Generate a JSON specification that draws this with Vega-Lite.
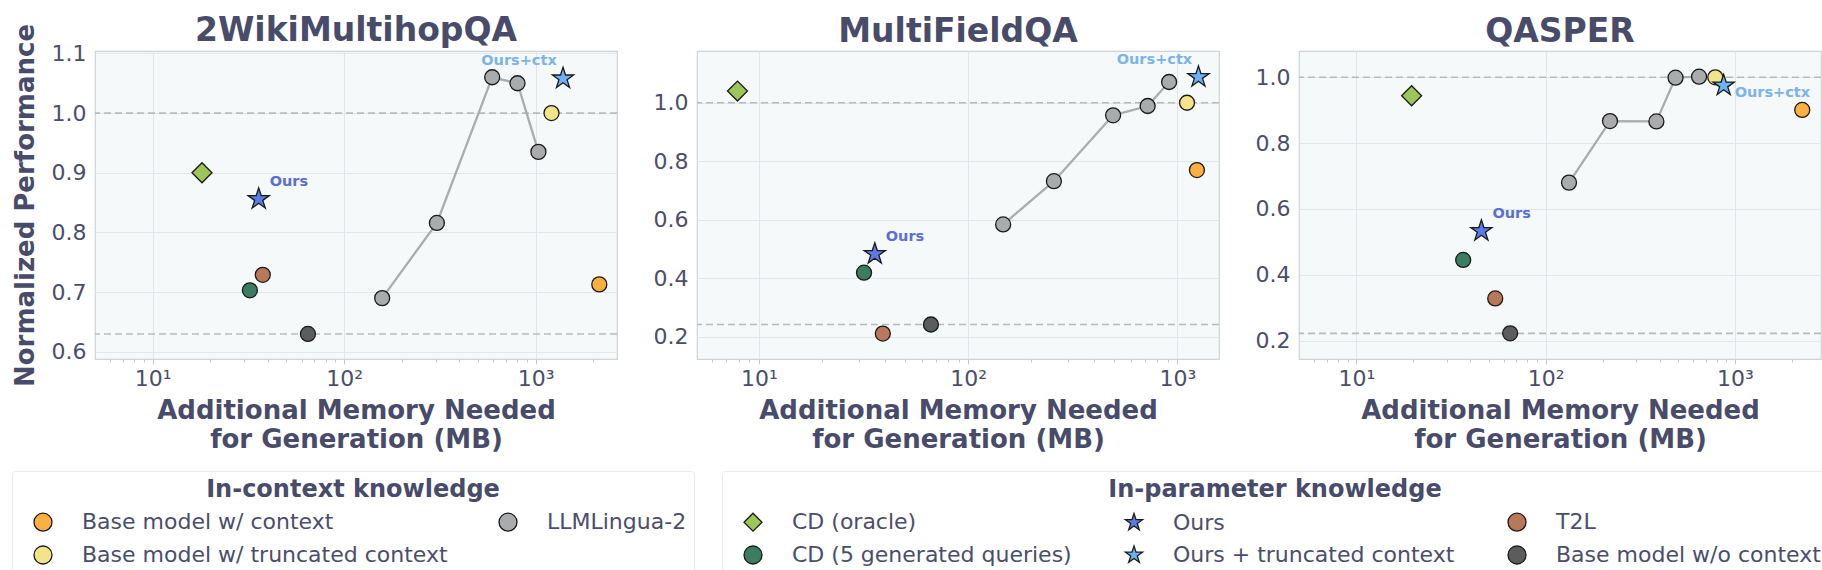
{
  "$schema": "https://vega.github.io/schema/vega-lite/v6.json",
  "padding": {"left": 11, "top": 14, "right": 0, "bottom": 0},
  "spacing": 33,
  "config": {
    "font": "DejaVu Sans",
    "view": {"fill": "#f5f9fa", "stroke": "#cfd3d8", "strokeWidth": 1.2},
    "axis": {"labelFont": "DejaVu Sans", "labelFontSize": 22, "labelColor": "#4b4e6b", "titleFont": "DejaVu Sans", "titleFontSize": 26, "titleFontWeight": "bold", "titleColor": "#484b69", "gridColor": "#e2e6ea", "gridWidth": 1, "domain": false, "tickColor": "#c5c9ce"},
    "title": {"font": "DejaVu Sans", "fontSize": 33, "fontWeight": "bold", "color": "#484b69", "baseline": "bottom", "offset": 2, "anchor": "middle"},
    "legend": {"padding": 7, "strokeColor": "#ebebeb", "fillColor": "#ffffff", "cornerRadius": 3, "titleFont": "DejaVu Sans", "titleFontSize": 24, "titleFontWeight": "bold", "titleColor": "#484b69", "titleAnchor": "middle", "titlePadding": 9, "titleLimit": 1000, "labelFont": "DejaVu Sans", "labelFontSize": 22, "labelColor": "#4b4e6b", "symbolSize": 324, "symbolStrokeColor": "#1a1a1a", "symbolStrokeWidth": 1.3, "symbolOpacity": 1, "symbolOffset": 13, "labelOffset": 28, "rowPadding": 9, "labelLimit": 500}
  },
  "datasets": {
    "pts": [
      {"d": "2WikiMultihopQA", "series": "Base model w/ context", "mem": 2150, "perf": 0.713},
      {"d": "2WikiMultihopQA", "series": "Base model w/ truncated context", "mem": 1210, "perf": 1.0},
      {"d": "2WikiMultihopQA", "series": "LLMLingua-2", "mem": 158, "perf": 0.690},
      {"d": "2WikiMultihopQA", "series": "LLMLingua-2", "mem": 305, "perf": 0.816},
      {"d": "2WikiMultihopQA", "series": "LLMLingua-2", "mem": 593, "perf": 1.060},
      {"d": "2WikiMultihopQA", "series": "LLMLingua-2", "mem": 804, "perf": 1.050},
      {"d": "2WikiMultihopQA", "series": "LLMLingua-2", "mem": 1034, "perf": 0.935},
      {"d": "2WikiMultihopQA", "series": "CD (oracle)", "mem": 18.1, "perf": 0.900},
      {"d": "2WikiMultihopQA", "series": "CD (5 generated queries)", "mem": 32.2, "perf": 0.703},
      {"d": "2WikiMultihopQA", "series": "Ours", "mem": 35.8, "perf": 0.856},
      {"d": "2WikiMultihopQA", "series": "Ours + truncated context", "mem": 1390, "perf": 1.058},
      {"d": "2WikiMultihopQA", "series": "T2L", "mem": 37.6, "perf": 0.729},
      {"d": "2WikiMultihopQA", "series": "Base model w/o context", "mem": 64.7, "perf": 0.630},
      {"d": "MultiFieldQA", "series": "Base model w/ context", "mem": 1240, "perf": 0.770},
      {"d": "MultiFieldQA", "series": "Base model w/ truncated context", "mem": 1112, "perf": 1.0},
      {"d": "MultiFieldQA", "series": "LLMLingua-2", "mem": 147, "perf": 0.584},
      {"d": "MultiFieldQA", "series": "LLMLingua-2", "mem": 257, "perf": 0.732},
      {"d": "MultiFieldQA", "series": "LLMLingua-2", "mem": 493, "perf": 0.957},
      {"d": "MultiFieldQA", "series": "LLMLingua-2", "mem": 721, "perf": 0.989},
      {"d": "MultiFieldQA", "series": "LLMLingua-2", "mem": 913, "perf": 1.071},
      {"d": "MultiFieldQA", "series": "CD (oracle)", "mem": 7.9, "perf": 1.040},
      {"d": "MultiFieldQA", "series": "CD (5 generated queries)", "mem": 31.8, "perf": 0.419},
      {"d": "MultiFieldQA", "series": "Ours", "mem": 35.8, "perf": 0.483},
      {"d": "MultiFieldQA", "series": "Ours + truncated context", "mem": 1261, "perf": 1.088},
      {"d": "MultiFieldQA", "series": "T2L", "mem": 39.1, "perf": 0.211},
      {"d": "MultiFieldQA", "series": "Base model w/o context", "mem": 66.4, "perf": 0.242},
      {"d": "QASPER", "series": "Base model w/ context", "mem": 2270, "perf": 0.901},
      {"d": "QASPER", "series": "Base model w/ truncated context", "mem": 788, "perf": 1.0},
      {"d": "QASPER", "series": "LLMLingua-2", "mem": 133, "perf": 0.680},
      {"d": "QASPER", "series": "LLMLingua-2", "mem": 219, "perf": 0.867},
      {"d": "QASPER", "series": "LLMLingua-2", "mem": 385, "perf": 0.866},
      {"d": "QASPER", "series": "LLMLingua-2", "mem": 486, "perf": 0.999},
      {"d": "QASPER", "series": "LLMLingua-2", "mem": 647, "perf": 1.002},
      {"d": "QASPER", "series": "CD (oracle)", "mem": 19.6, "perf": 0.944},
      {"d": "QASPER", "series": "CD (5 generated queries)", "mem": 36.7, "perf": 0.445},
      {"d": "QASPER", "series": "Ours", "mem": 45.8, "perf": 0.533},
      {"d": "QASPER", "series": "Ours + truncated context", "mem": 873, "perf": 0.975},
      {"d": "QASPER", "series": "T2L", "mem": 54.2, "perf": 0.328},
      {"d": "QASPER", "series": "Base model w/o context", "mem": 65.0, "perf": 0.222}
    ]
  },
  "hconcat": [
    {
      "title": {"text": "2WikiMultihopQA", "offset": -25},
      "width": 522, "height": 308,
      "data": {"name": "pts"},
      "transform": [{"filter": {"field": "d", "equal": "2WikiMultihopQA"}}],
      "encoding": {
        "y": {"field": "perf", "type": "quantitative", "scale": {"domain": [0.588, 1.104], "nice": false, "zero": false},
              "axis": {"title": "Normalized Performance", "values": [0.6, 0.7, 0.8, 0.9, 1.0, 1.1], "format": ".1f", "ticks": false, "labelPadding": 9, "minExtent": 44, "maxExtent": 44, "titlePadding": 13, "grid": true}},
        "x": {"field": "mem", "type": "quantitative", "scale": {"type": "log", "domain": [5.0, 2660], "nice": false}, "axis": null}
      },
      "layer": [
        {"transform": [{"filter": {"field": "series", "oneOf": ["Base model w/ truncated context", "Base model w/o context"]}}],
         "mark": {"type": "rule", "color": "#bababa", "strokeWidth": 1.6, "strokeDash": [7, 4]},
         "encoding": {"x": null}},
        {"transform": [{"filter": {"field": "series", "equal": "LLMLingua-2"}}],
         "mark": {"type": "line", "color": "#acacac", "strokeWidth": 2.3},
         "encoding": {
           "x": {"field": "mem", "type": "quantitative", "scale": {"type": "log", "domain": [5.0, 2660], "nice": false},
                 "axis": {"orient": "bottom", "values": [10, 100, 1000], "labelExpr": "datum.value == 10 ? '10¹' : datum.value == 100 ? '10²' : '10³'", "grid": true, "tickSize": 5, "labelPadding": 4, "minExtent": 30, "maxExtent": 30, "titlePadding": 8, "title": ["Additional Memory Needed", "for Generation (MB)"], "titleLineHeight": 29}},
           "order": {"field": "mem", "type": "quantitative"}}},
        {"transform": [{"filter": {"field": "series", "oneOf": ["Base model w/ context", "Base model w/ truncated context", "LLMLingua-2"]}}],
         "mark": {"type": "point", "filled": true, "shape": "circle", "size": 225, "opacity": 1, "stroke": "#1a1a1a", "strokeWidth": 1.3},
         "encoding": {
           "x": {"field": "mem", "type": "quantitative", "scale": {"type": "log", "domain": [5.0, 2660], "nice": false},
                 "axis": {"orient": "bottom", "values": [6, 7, 8, 9, 20, 30, 40, 50, 60, 70, 80, 90, 200, 300, 400, 500, 600, 700, 800, 900, 2000], "labels": false, "grid": false, "tickSize": 3, "title": null, "minExtent": 0, "maxExtent": 0}},
           "fill": {"field": "series", "type": "nominal", "scale": {"domain": ["Base model w/ context", "Base model w/ truncated context", "LLMLingua-2"], "range": ["#fbb040", "#f3e48a", "#a9abad"]},
                    "legend": {"title": "In-context knowledge", "orient": "none", "legendX": -83, "legendY": 420, "columns": 2, "columnPadding": 36, "symbolType": "circle"}}}},
        {"transform": [{"filter": {"field": "series", "oneOf": ["CD (5 generated queries)", "T2L", "Base model w/o context"]}}],
         "mark": {"type": "point", "filled": true, "opacity": 1, "size": 225, "stroke": "#1a1a1a", "strokeWidth": 1.3},
         "encoding": {
           "color": {"field": "series", "type": "nominal", "scale": {"domain": ["CD (oracle)", "CD (5 generated queries)", "Ours", "Ours + truncated context", "T2L", "Base model w/o context"], "range": ["#9cc65a", "#3b7d60", "#5b7be6", "#6cb0f5", "#b9785a", "#5c5c5c"]},
                     "legend": {"title": "In-parameter knowledge", "orient": "none", "legendX": 627, "legendY": 420, "columns": 3, "columnPadding": 38, "encode": {"symbols": {"update": {"stroke": {"value": "#1a1a1a"}, "strokeWidth": {"value": 1.3}}}}}},
           "shape": {"field": "series", "type": "nominal", "scale": {"domain": ["CD (oracle)", "CD (5 generated queries)", "Ours", "Ours + truncated context", "T2L", "Base model w/o context"], "range": ["diamond", "circle", "M0,-1L0.225,-0.309L0.951,-0.309L0.363,0.118L0.588,0.809L0,0.382L-0.588,0.809L-0.363,0.118L-0.951,-0.309L-0.225,-0.309Z", "M0,-1L0.225,-0.309L0.951,-0.309L0.363,0.118L0.588,0.809L0,0.382L-0.588,0.809L-0.363,0.118L-0.951,-0.309L-0.225,-0.309Z", "circle", "circle"]},
                     "legend": {"title": "In-parameter knowledge", "orient": "none", "legendX": 627, "legendY": 420, "columns": 3, "columnPadding": 38, "encode": {"symbols": {"update": {"stroke": {"value": "#1a1a1a"}, "strokeWidth": {"value": 1.3}}}}}}}},
        {"transform": [{"filter": {"field": "series", "equal": "CD (oracle)"}}],
         "mark": {"type": "point", "filled": true, "opacity": 1, "size": 400, "stroke": "#1a1a1a", "strokeWidth": 1.3},
         "encoding": {"color": {"field": "series", "type": "nominal"}, "shape": {"field": "series", "type": "nominal"}}},
        {"transform": [{"filter": {"field": "series", "oneOf": ["Ours", "Ours + truncated context"]}}],
         "mark": {"type": "point", "filled": true, "opacity": 1, "size": 500, "stroke": "#1a1a1a", "strokeWidth": 1.3},
         "encoding": {"color": {"field": "series", "type": "nominal"}, "shape": {"field": "series", "type": "nominal"}}},
        {"transform": [{"filter": {"field": "series", "equal": "Ours"}}],
         "mark": {"type": "text", "align": "left", "baseline": "middle", "dx": 11, "dy": -17, "fontSize": 14.5, "fontWeight": "bold", "color": "#5a6fd6"},
         "encoding": {"text": {"value": "Ours"}}},
        {"transform": [{"filter": {"field": "series", "equal": "Ours + truncated context"}}],
         "mark": {"type": "text", "align": "center", "baseline": "middle", "dx": -44, "dy": -17, "fontSize": 14.5, "fontWeight": "bold", "color": "#7cb4ea"},
         "encoding": {"text": {"value": "Ours+ctx"}}}
      ],
      "resolve": {"axis": {"x": "independent"}}
    },
    {
      "title": {"text": "MultiFieldQA"},
      "width": 522, "height": 308,
      "data": {"name": "pts"},
      "transform": [{"filter": {"field": "d", "equal": "MultiFieldQA"}}],
      "encoding": {
        "y": {"field": "perf", "type": "quantitative", "scale": {"domain": [0.124, 1.177], "nice": false, "zero": false},
              "axis": {"title": null, "values": [0.2, 0.4, 0.6, 0.8, 1.0], "format": ".1f", "ticks": false, "labelPadding": 9, "minExtent": 44, "maxExtent": 44, "grid": true}},
        "x": {"field": "mem", "type": "quantitative", "scale": {"type": "log", "domain": [5.06, 1581], "nice": false}, "axis": null}
      },
      "layer": [
        {"transform": [{"filter": {"field": "series", "oneOf": ["Base model w/ truncated context", "Base model w/o context"]}}],
         "mark": {"type": "rule", "color": "#bababa", "strokeWidth": 1.6, "strokeDash": [7, 4]},
         "encoding": {"x": null}},
        {"transform": [{"filter": {"field": "series", "equal": "LLMLingua-2"}}],
         "mark": {"type": "line", "color": "#acacac", "strokeWidth": 2.3},
         "encoding": {
           "x": {"field": "mem", "type": "quantitative", "scale": {"type": "log", "domain": [5.06, 1581], "nice": false},
                 "axis": {"orient": "bottom", "values": [10, 100, 1000], "labelExpr": "datum.value == 10 ? '10¹' : datum.value == 100 ? '10²' : '10³'", "grid": true, "tickSize": 5, "labelPadding": 4, "minExtent": 30, "maxExtent": 30, "titlePadding": 8, "title": ["Additional Memory Needed", "for Generation (MB)"], "titleLineHeight": 29}},
           "order": {"field": "mem", "type": "quantitative"}}},
        {"transform": [{"filter": {"field": "series", "oneOf": ["Base model w/ context", "Base model w/ truncated context", "LLMLingua-2"]}}],
         "mark": {"type": "point", "filled": true, "shape": "circle", "size": 225, "opacity": 1, "stroke": "#1a1a1a", "strokeWidth": 1.3},
         "encoding": {
           "x": {"field": "mem", "type": "quantitative", "scale": {"type": "log", "domain": [5.06, 1581], "nice": false},
                 "axis": {"orient": "bottom", "values": [6, 7, 8, 9, 20, 30, 40, 50, 60, 70, 80, 90, 200, 300, 400, 500, 600, 700, 800, 900], "labels": false, "grid": false, "tickSize": 3, "title": null, "minExtent": 0, "maxExtent": 0}},
           "fill": {"field": "series", "type": "nominal", "scale": {"domain": ["Base model w/ context", "Base model w/ truncated context", "LLMLingua-2"], "range": ["#fbb040", "#f3e48a", "#a9abad"]},
                    "legend": {"title": "In-context knowledge", "orient": "none", "legendX": -83, "legendY": 420, "columns": 2, "columnPadding": 36, "symbolType": "circle"}}}},
        {"transform": [{"filter": {"field": "series", "oneOf": ["CD (5 generated queries)", "T2L", "Base model w/o context"]}}],
         "mark": {"type": "point", "filled": true, "opacity": 1, "size": 225, "stroke": "#1a1a1a", "strokeWidth": 1.3},
         "encoding": {
           "color": {"field": "series", "type": "nominal", "scale": {"domain": ["CD (oracle)", "CD (5 generated queries)", "Ours", "Ours + truncated context", "T2L", "Base model w/o context"], "range": ["#9cc65a", "#3b7d60", "#5b7be6", "#6cb0f5", "#b9785a", "#5c5c5c"]},
                     "legend": {"title": "In-parameter knowledge", "orient": "none", "legendX": 627, "legendY": 420, "columns": 3, "columnPadding": 38, "encode": {"symbols": {"update": {"stroke": {"value": "#1a1a1a"}, "strokeWidth": {"value": 1.3}}}}}},
           "shape": {"field": "series", "type": "nominal", "scale": {"domain": ["CD (oracle)", "CD (5 generated queries)", "Ours", "Ours + truncated context", "T2L", "Base model w/o context"], "range": ["diamond", "circle", "M0,-1L0.225,-0.309L0.951,-0.309L0.363,0.118L0.588,0.809L0,0.382L-0.588,0.809L-0.363,0.118L-0.951,-0.309L-0.225,-0.309Z", "M0,-1L0.225,-0.309L0.951,-0.309L0.363,0.118L0.588,0.809L0,0.382L-0.588,0.809L-0.363,0.118L-0.951,-0.309L-0.225,-0.309Z", "circle", "circle"]},
                     "legend": {"title": "In-parameter knowledge", "orient": "none", "legendX": 627, "legendY": 420, "columns": 3, "columnPadding": 38, "encode": {"symbols": {"update": {"stroke": {"value": "#1a1a1a"}, "strokeWidth": {"value": 1.3}}}}}}}},
        {"transform": [{"filter": {"field": "series", "equal": "CD (oracle)"}}],
         "mark": {"type": "point", "filled": true, "opacity": 1, "size": 400, "stroke": "#1a1a1a", "strokeWidth": 1.3},
         "encoding": {"color": {"field": "series", "type": "nominal"}, "shape": {"field": "series", "type": "nominal"}}},
        {"transform": [{"filter": {"field": "series", "oneOf": ["Ours", "Ours + truncated context"]}}],
         "mark": {"type": "point", "filled": true, "opacity": 1, "size": 500, "stroke": "#1a1a1a", "strokeWidth": 1.3},
         "encoding": {"color": {"field": "series", "type": "nominal"}, "shape": {"field": "series", "type": "nominal"}}},
        {"transform": [{"filter": {"field": "series", "equal": "Ours"}}],
         "mark": {"type": "text", "align": "left", "baseline": "middle", "dx": 11, "dy": -17, "fontSize": 14.5, "fontWeight": "bold", "color": "#5a6fd6"},
         "encoding": {"text": {"value": "Ours"}}},
        {"transform": [{"filter": {"field": "series", "equal": "Ours + truncated context"}}],
         "mark": {"type": "text", "align": "center", "baseline": "middle", "dx": -44, "dy": -17, "fontSize": 14.5, "fontWeight": "bold", "color": "#7cb4ea"},
         "encoding": {"text": {"value": "Ours+ctx"}}}
      ],
      "resolve": {"axis": {"x": "independent"}}
    },
    {
      "title": {"text": "QASPER"},
      "width": 522, "height": 308,
      "data": {"name": "pts"},
      "transform": [{"filter": {"field": "d", "equal": "QASPER"}}],
      "encoding": {
        "y": {"field": "perf", "type": "quantitative", "scale": {"domain": [0.144, 1.08], "nice": false, "zero": false},
              "axis": {"title": null, "values": [0.2, 0.4, 0.6, 0.8, 1.0], "format": ".1f", "ticks": false, "labelPadding": 9, "minExtent": 44, "maxExtent": 44, "grid": true}},
        "x": {"field": "mem", "type": "quantitative", "scale": {"type": "log", "domain": [4.98, 2852], "nice": false}, "axis": null}
      },
      "layer": [
        {"transform": [{"filter": {"field": "series", "oneOf": ["Base model w/ truncated context", "Base model w/o context"]}}],
         "mark": {"type": "rule", "color": "#bababa", "strokeWidth": 1.6, "strokeDash": [7, 4]},
         "encoding": {"x": null}},
        {"transform": [{"filter": {"field": "series", "equal": "LLMLingua-2"}}],
         "mark": {"type": "line", "color": "#acacac", "strokeWidth": 2.3},
         "encoding": {
           "x": {"field": "mem", "type": "quantitative", "scale": {"type": "log", "domain": [4.98, 2852], "nice": false},
                 "axis": {"orient": "bottom", "values": [10, 100, 1000], "labelExpr": "datum.value == 10 ? '10¹' : datum.value == 100 ? '10²' : '10³'", "grid": true, "tickSize": 5, "labelPadding": 4, "minExtent": 30, "maxExtent": 30, "titlePadding": 8, "title": ["Additional Memory Needed", "for Generation (MB)"], "titleLineHeight": 29}},
           "order": {"field": "mem", "type": "quantitative"}}},
        {"transform": [{"filter": {"field": "series", "oneOf": ["Base model w/ context", "Base model w/ truncated context", "LLMLingua-2"]}}],
         "mark": {"type": "point", "filled": true, "shape": "circle", "size": 225, "opacity": 1, "stroke": "#1a1a1a", "strokeWidth": 1.3},
         "encoding": {
           "x": {"field": "mem", "type": "quantitative", "scale": {"type": "log", "domain": [4.98, 2852], "nice": false},
                 "axis": {"orient": "bottom", "values": [6, 7, 8, 9, 20, 30, 40, 50, 60, 70, 80, 90, 200, 300, 400, 500, 600, 700, 800, 900, 2000], "labels": false, "grid": false, "tickSize": 3, "title": null, "minExtent": 0, "maxExtent": 0}},
           "fill": {"field": "series", "type": "nominal", "scale": {"domain": ["Base model w/ context", "Base model w/ truncated context", "LLMLingua-2"], "range": ["#fbb040", "#f3e48a", "#a9abad"]},
                    "legend": {"title": "In-context knowledge", "orient": "none", "legendX": -83, "legendY": 420, "columns": 2, "columnPadding": 36, "symbolType": "circle"}}}},
        {"transform": [{"filter": {"field": "series", "oneOf": ["CD (5 generated queries)", "T2L", "Base model w/o context"]}}],
         "mark": {"type": "point", "filled": true, "opacity": 1, "size": 225, "stroke": "#1a1a1a", "strokeWidth": 1.3},
         "encoding": {
           "color": {"field": "series", "type": "nominal", "scale": {"domain": ["CD (oracle)", "CD (5 generated queries)", "Ours", "Ours + truncated context", "T2L", "Base model w/o context"], "range": ["#9cc65a", "#3b7d60", "#5b7be6", "#6cb0f5", "#b9785a", "#5c5c5c"]},
                     "legend": {"title": "In-parameter knowledge", "orient": "none", "legendX": 627, "legendY": 420, "columns": 3, "columnPadding": 38, "encode": {"symbols": {"update": {"stroke": {"value": "#1a1a1a"}, "strokeWidth": {"value": 1.3}}}}}},
           "shape": {"field": "series", "type": "nominal", "scale": {"domain": ["CD (oracle)", "CD (5 generated queries)", "Ours", "Ours + truncated context", "T2L", "Base model w/o context"], "range": ["diamond", "circle", "M0,-1L0.225,-0.309L0.951,-0.309L0.363,0.118L0.588,0.809L0,0.382L-0.588,0.809L-0.363,0.118L-0.951,-0.309L-0.225,-0.309Z", "M0,-1L0.225,-0.309L0.951,-0.309L0.363,0.118L0.588,0.809L0,0.382L-0.588,0.809L-0.363,0.118L-0.951,-0.309L-0.225,-0.309Z", "circle", "circle"]},
                     "legend": {"title": "In-parameter knowledge", "orient": "none", "legendX": 627, "legendY": 420, "columns": 3, "columnPadding": 38, "encode": {"symbols": {"update": {"stroke": {"value": "#1a1a1a"}, "strokeWidth": {"value": 1.3}}}}}}}},
        {"transform": [{"filter": {"field": "series", "equal": "CD (oracle)"}}],
         "mark": {"type": "point", "filled": true, "opacity": 1, "size": 400, "stroke": "#1a1a1a", "strokeWidth": 1.3},
         "encoding": {"color": {"field": "series", "type": "nominal"}, "shape": {"field": "series", "type": "nominal"}}},
        {"transform": [{"filter": {"field": "series", "oneOf": ["Ours", "Ours + truncated context"]}}],
         "mark": {"type": "point", "filled": true, "opacity": 1, "size": 500, "stroke": "#1a1a1a", "strokeWidth": 1.3},
         "encoding": {"color": {"field": "series", "type": "nominal"}, "shape": {"field": "series", "type": "nominal"}}},
        {"transform": [{"filter": {"field": "series", "equal": "Ours"}}],
         "mark": {"type": "text", "align": "left", "baseline": "middle", "dx": 11, "dy": -17, "fontSize": 14.5, "fontWeight": "bold", "color": "#5a6fd6"},
         "encoding": {"text": {"value": "Ours"}}},
        {"transform": [{"filter": {"field": "series", "equal": "Ours + truncated context"}}],
         "mark": {"type": "text", "align": "left", "baseline": "middle", "dx": 11, "dy": 7, "fontSize": 14.5, "fontWeight": "bold", "color": "#7cb4ea"},
         "encoding": {"text": {"value": "Ours+ctx"}}}
      ],
      "resolve": {"axis": {"x": "independent"}}
    }
  ]
}
